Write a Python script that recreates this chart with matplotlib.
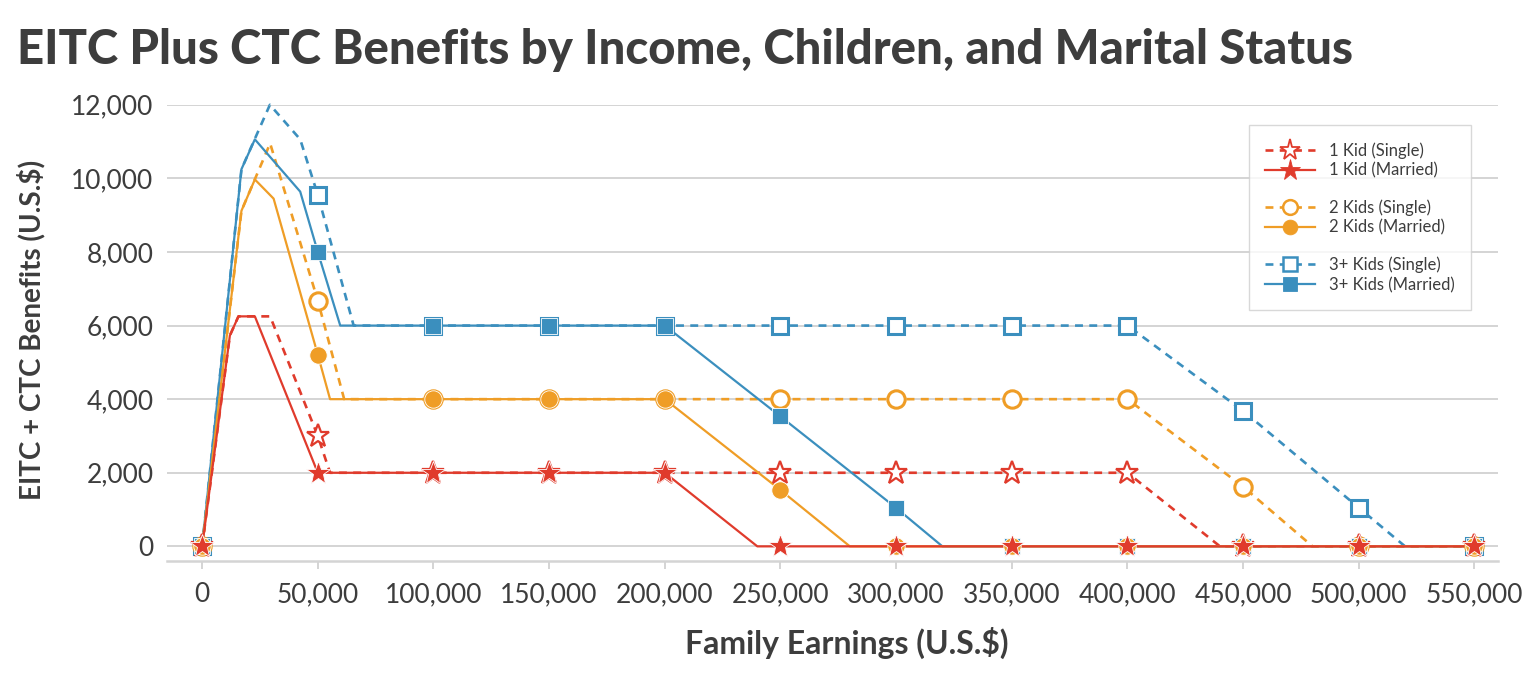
import matplotlib
matplotlib.use("Agg")
import matplotlib.pyplot as plt
from matplotlib.lines import Line2D
from matplotlib.ticker import FuncFormatter

plt.rcParams['font.family'] = ['Lato', 'DejaVu Sans']

# line breakpoints (earnings, benefit)
kid1_single_x = [0, 12000, 15700, 29400, 50000, 55300, 400000, 440000, 550000]
kid1_single_y = [0, 5730, 6250, 6250, 3000, 2000, 2000, 0, 0]
kid1_married_x = [0, 12000, 15700, 22800, 50000, 200000, 240000, 550000]
kid1_married_y = [0, 5730, 6250, 6250, 2000, 2000, 0, 0]

kid2_single_x = [0, 17000, 29400, 50000, 61400, 400000, 450000, 480000, 550000]
kid2_single_y = [0, 9120, 10950, 6680, 4000, 4000, 1620, 0, 0]
kid2_married_x = [0, 17000, 22800, 30900, 50000, 55300, 200000, 250000, 280000, 550000]
kid2_married_y = [0, 9120, 9970, 9450, 5210, 4000, 4000, 1530, 0, 0]

kid3_single_x = [0, 17000, 29300, 42400, 50000, 65500, 400000, 450000, 500000, 520000, 550000]
kid3_single_y = [0, 10250, 12000, 11060, 9550, 6000, 6000, 3680, 1050, 0, 0]
kid3_married_x = [0, 17000, 22800, 42400, 50000, 59700, 200000, 250000, 300000, 320000, 550000]
kid3_married_y = [0, 10250, 11060, 9640, 8000, 6000, 6000, 3530, 1045, 0, 0]

# marker values at every 50,000
marker_x = [0, 50000, 100000, 150000, 200000, 250000, 300000, 350000, 400000, 450000, 500000, 550000]
kid1_single_m = [0, 3000, 2000, 2000, 2000, 2000, 2000, 2000, 2000, 0, 0, 0]
kid1_married_m = [0, 2000, 2000, 2000, 2000, 0, 0, 0, 0, 0, 0, 0]
kid2_single_m = [0, 6680, 4000, 4000, 4000, 4000, 4000, 4000, 4000, 1620, 0, 0]
kid2_married_m = [0, 5210, 4000, 4000, 4000, 1530, 0, 0, 0, 0, 0, 0]
kid3_single_m = [0, 9550, 6000, 6000, 6000, 6000, 6000, 6000, 6000, 3680, 1050, 0]
kid3_married_m = [0, 8000, 6000, 6000, 6000, 3530, 1045, 0, 0, 0, 0, 0]

RED = '#e03b2c'
ORANGE = '#ef9d26'
BLUE = '#3b8fbe'
TEXT = '#3d3d3d'
GRID = '#d4d4d4'
DASH = (0, (3, 2.4))

# singles first, married on top (as in the original stacking)
series = [
    ('3+ Kids (Single)', kid3_single_x, kid3_single_y, kid3_single_m, BLUE, 's', True),
    ('2 Kids (Single)', kid2_single_x, kid2_single_y, kid2_single_m, ORANGE, 'o', True),
    ('1 Kid (Single)', kid1_single_x, kid1_single_y, kid1_single_m, RED, '*', True),
    ('3+ Kids (Married)', kid3_married_x, kid3_married_y, kid3_married_m, BLUE, 's', False),
    ('2 Kids (Married)', kid2_married_x, kid2_married_y, kid2_married_m, ORANGE, 'o', False),
    ('1 Kid (Married)', kid1_married_x, kid1_married_y, kid1_married_m, RED, '*', False),
]
msize = {'s': 12, 'o': 12.5, '*': 18}

fig = plt.figure(figsize=(15.36, 6.76), dpi=100)
ax = fig.add_axes([0.109, 0.170, 0.866, 0.675])

handles = {}
for i, (label, lx, ly, mv, col, mk, single) in enumerate(series):
    ls = DASH if single else '-'
    lw = 1.9 if single else 1.6
    ax.plot(lx, ly, color=col, linestyle=ls, linewidth=lw, zorder=3 + i * 0.1, clip_on=False)
    if single:
        ax.plot(marker_x, mv, linestyle='none', marker=mk,
                markersize=msize[mk] * (0.95 if mk == '*' else 1),
                markerfacecolor='white', markeredgecolor=col,
                markeredgewidth=2.2 if mk != '*' else 1.6,
                zorder=4 + i * 0.1, clip_on=False)
    else:
        ax.plot(marker_x, mv, linestyle='none', marker=mk, markersize=msize[mk],
                markerfacecolor=col, markeredgecolor='white', markeredgewidth=0.6,
                zorder=4 + i * 0.1, clip_on=False)
    handles[label] = Line2D([], [], color=col, linestyle=ls, linewidth=lw, marker=mk,
                            markersize=msize[mk] * 0.85,
                            markerfacecolor='white' if single else col,
                            markeredgecolor=col,
                            markeredgewidth=(1.8 if mk != '*' else 1.3) if single else 0.6)

blank = Line2D([], [], linestyle='none')
order = ['1 Kid (Single)', '1 Kid (Married)', None,
         '2 Kids (Single)', '2 Kids (Married)', None,
         '3+ Kids (Single)', '3+ Kids (Married)']
leg_h = [handles[o] if o else blank for o in order]
leg_l = [o if o else ' ' for o in order]
leg = ax.legend(leg_h, leg_l, loc='upper right', bbox_to_anchor=(0.98, 0.955),
                fontsize=12, frameon=True, fancybox=False, handlelength=3.0,
                labelspacing=0.22, borderpad=1.0, handletextpad=0.8,
                borderaxespad=0)
leg.get_frame().set_edgecolor('#cfcfcf')
leg.get_frame().set_linewidth(1.0)
for o, t in zip(order, leg.get_texts()):
    t.set_color(TEXT)
    if o is None:
        t.set_fontsize(8)

ax.set_xlim(-15000, 560000)
ax.set_ylim(-400, 12000)
ax.set_xticks(marker_x)
ax.set_yticks([0, 2000, 4000, 6000, 8000, 10000, 12000])
fmt = FuncFormatter(lambda v, p: f'{int(v):,}')
ax.xaxis.set_major_formatter(fmt)
ax.yaxis.set_major_formatter(fmt)
ax.grid(axis='y', color=GRID, linewidth=1.4, zorder=0)
ax.set_axisbelow(True)
for s in ['top', 'right', 'left']:
    ax.spines[s].set_visible(False)
ax.spines['bottom'].set_color(GRID)
ax.spines['bottom'].set_linewidth(1.8)
ax.tick_params(axis='x', length=6, width=1.4, color=GRID, pad=9,
               labelsize=19, labelcolor=TEXT)
ax.tick_params(axis='y', length=0, pad=10, labelsize=19, labelcolor=TEXT)

# axis titles placed where they sit in the original
fig.text(0.551, 0.049, 'Family Earnings (U.S.$)', fontsize=23, fontweight='bold',
         color=TEXT, ha='center', va='center')
fig.text(0.020, 0.512, 'EITC + CTC Benefits (U.S.$)', fontsize=20, fontweight='bold',
         color=TEXT, ha='center', va='center', rotation=90)

fig.text(0.011, 0.905, 'EITC Plus CTC Benefits by Income, Children, and Marital Status',
         fontsize=34, fontweight=900, color=TEXT, ha='left', va='baseline')

fig.savefig('out.png', dpi=100)
